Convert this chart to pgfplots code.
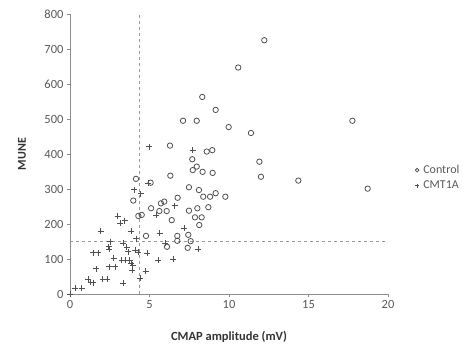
\documentclass[border=0pt]{standalone}
\usepackage{pgfplots}
\pgfplotsset{compat=1.18}
\usepackage{fontspec}
\setmainfont{Carlito}
\definecolor{mk}{HTML}{505050}
\definecolor{tl}{HTML}{595959}
\begin{document}
\begin{tikzpicture}
\begin{axis}[
  scale only axis, width=318pt, height=280pt,
  xmin=0, xmax=20, ymin=0, ymax=800,
  axis x line*=bottom, axis y line*=left,
  axis line style={black!45, line width=0.6pt},
  xtick={0,5,...,20}, ytick={0,100,...,800},
  tick align=outside, major tick length=3pt,
  tick style={black!45, line width=0.6pt},
  /pgf/number format/assume math mode=true,
  ticklabel style={font=\fontsize{12.5}{14}\selectfont, text=tl},
  every axis y label/.style={at={(axis description cs:-0.151,0.5)}, rotate=90, anchor=center, font=\fontsize{12}{14}\selectfont\bfseries, text=black!80},
  every axis x label/.style={at={(axis description cs:0.5,-0.154)}, anchor=center, font=\fontsize{12.5}{14}\selectfont\bfseries, text=black!80},
  xlabel={CMAP amplitude (mV)}, ylabel={MUNE},
  legend style={draw=none, fill=none, at={(1.085,0.415)}, anchor=west, font=\fontsize{12}{14}\selectfont, text=tl, row sep=2pt, inner sep=0pt},
  legend cell align=left,
  legend image code/.code={\path (0cm,0cm) (0.2cm,0cm);\draw[#1, mark size=1.8pt, line width=0.6pt] plot coordinates {(0.06cm,0cm)};},
  clip=false
]
\addplot[black!40, dashed, line width=0.6pt, forget plot] coordinates {(4.33,0) (4.33,800)};
\addplot[black!40, dashed, line width=0.6pt, forget plot] coordinates {(0,150) (20,150)};
\addplot[only marks, mark=o, mark size=2.7pt, mark options={draw=mk, line width=0.8pt}] coordinates {
(4.15,329) (6.31,338) (6.29,424) (8.6,407) (8.95,411) (7.69,385) (7.97,364) (7.72,354)
(8.34,349) (8.97,346) (7.11,495) (7.97,495) (8.32,563) (9.16,526) (9.98,477) (10.58,647)
(12.22,725) (11.38,460) (17.76,495) (11.91,378) (12.01,335) (14.36,324) (18.72,301)
(5.07,318) (7.48,305) (8.11,297) (9.16,288) (8.38,278) (8.81,278) (9.77,278) (3.98,267)
(6.77,275) (5.93,264) (5.72,259) (5.1,245) (5.62,237) (6.08,237) (7.48,238) (8.01,245)
(8.7,248) (4.3,223) (4.51,226) (7.86,219) (8.28,219) (6.4,211) (8.13,197) (4.78,166)
(6.75,166) (6.75,152) (7.44,169) (7.59,151) (6.1,135) (7.4,132)
};
\addlegendentry{Control}
\addplot[only marks, mark=+, mark size=3pt, mark options={draw=mk, line width=0.8pt}] coordinates {
(0,0) (0.31,16) (0.73,16) (1.15,42) (1.3,34) (1.45,32) (2.05,43) (2.35,43) (1.65,72)
(2.45,78) (2.83,78) (3.35,31) (3.92,68) (4.76,66) (4.4,45) (2.75,102) (3.25,96) (3.46,96)
(3.75,97) (3.86,88) (3.94,83) (1.47,118) (1.78,118) (4.3,119) (4.84,117) (2.43,135)
(2.47,128) (3.35,145) (3.56,133) (3.67,121) (4.09,126) (2.52,150) (4.17,158) (1.93,180)
(3.86,179) (3.0,222) (3.45,210) (3.15,202) (4.03,298) (4.45,287) (4.99,421) (7.72,411)
(4.92,316) (6.58,252) (5.43,226) (5.64,173) (7.17,188) (5.97,145) (8.07,128) (5.55,97)
(6.5,100)
};
\addlegendentry{CMT1A}
\end{axis}
\useasboundingbox (-70pt,-62pt) rectangle (404pt,294pt);
\end{tikzpicture}
\end{document}
